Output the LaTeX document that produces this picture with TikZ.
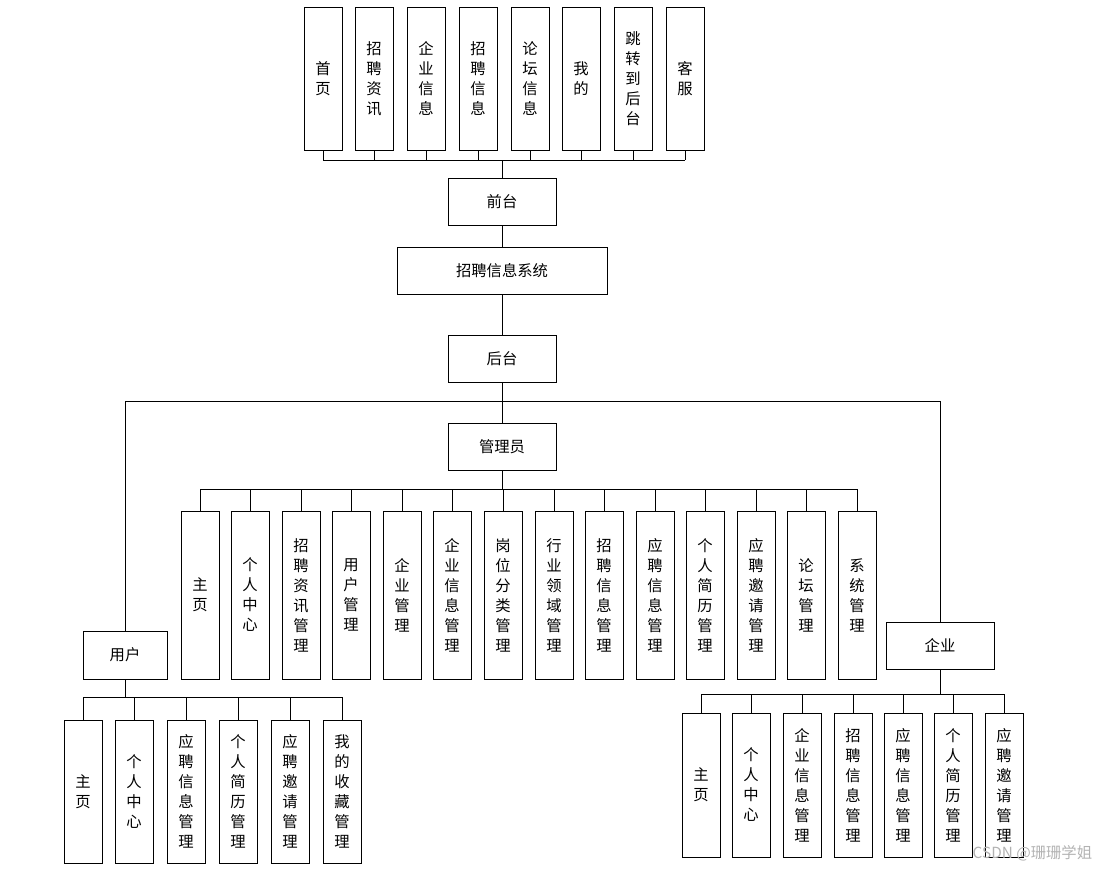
\documentclass[tikz,border=0pt]{standalone}
\usepackage{fontspec}
\setmainfont{Noto Sans CJK SC}
\begin{document}
\begin{tikzpicture}[x=0.75pt,y=-0.75pt,line width=0.6pt,
  every node/.style={font=\fontsize{11.5}{15}\selectfont},
  hb/.style={draw,minimum width=81pt,minimum height=35.25pt,inner sep=0pt},
  vb/.style={draw,minimum width=28.5pt,inner sep=0pt,align=center,text width=14pt}]
\useasboundingbox (0,0) rectangle (1111,872);
% top row
\foreach \i/\x/\t in {1/323/首\\页,2/374/招\\聘\\资\\讯,3/426/企\\业\\信\\息,4/478/招\\聘\\信\\息,5/530/论\\坛\\信\\息,6/581/我\\的,7/633/跳\\转\\到\\后\\台,8/685/客\\服}
  \node[vb,minimum height=107.25pt] (t\i) at (\x,78.5) {\t};
\coordinate (bt) at (0,160);
\node[hb] (qt) at (502,202) {前台};
\node[draw,minimum width=157.5pt,minimum height=35.25pt] (sys) at (502,270.5) {招聘信息系统};
\node[hb] (ht) at (502,358.5) {后台};
\node[hb] (gly) at (502,446.5) {管理员};
\node[draw,minimum width=63pt,minimum height=36pt] (yh) at (125,655) {用户};
\node[hb] (qy) at (940,645.5) {企业};
\coordinate (bh) at (0,401);
\coordinate (ba) at (0,489);
\coordinate (bu) at (0,697);
\coordinate (be) at (0,694);
% admin row
\foreach \i/\x/\t in {1/200/主\\页,2/250/个\\人\\中\\心,3/301/招\\聘\\资\\讯\\管\\理,4/351/用\\户\\管\\理,5/402/企\\业\\管\\理,6/452/企\\业\\信\\息\\管\\理,7/503/岗\\位\\分\\类\\管\\理,8/554/行\\业\\领\\域\\管\\理,9/604/招\\聘\\信\\息\\管\\理,10/655/应\\聘\\信\\息\\管\\理,11/705/个\\人\\简\\历\\管\\理,12/756/应\\聘\\邀\\请\\管\\理,13/806/论\\坛\\管\\理,14/857/系\\统\\管\\理}
  \node[vb,minimum height=126pt] (a\i) at (\x,595) {\t};
% user row
\foreach \i/\x/\t in {1/83/主\\页,2/134/个\\人\\中\\心,3/186/应\\聘\\信\\息\\管\\理,4/238/个\\人\\简\\历\\管\\理,5/290/应\\聘\\邀\\请\\管\\理,6/342/我\\的\\收\\藏\\管\\理}
  \node[vb,minimum height=107.25pt] (u\i) at (\x,791.5) {\t};
% enterprise row
\foreach \i/\x/\t in {1/701/主\\页,2/751/个\\人\\中\\心,3/802/企\\业\\信\\息\\管\\理,4/853/招\\聘\\信\\息\\管\\理,5/903/应\\聘\\信\\息\\管\\理,6/953/个\\人\\简\\历\\管\\理,7/1004/应\\聘\\邀\\请\\管\\理}
  \node[vb,minimum height=108pt] (e\i) at (\x,785) {\t};
% connectors top
\foreach \i in {1,...,8} \draw (t\i.south) -- (t\i.south |- bt);
\draw (t1.south |- bt) -- (t8.south |- bt);
\draw (qt.north) -- (qt.north |- bt);
\draw (qt.south) -- (sys.north);
\draw (sys.south) -- (ht.north);
\draw (ht.south) -- (ht.south |- bh);
\draw (yh.north |- bh) -- (qy.north |- bh);
\draw (yh.north) -- (yh.north |- bh);
\draw (qy.north) -- (qy.north |- bh);
\draw (gly.north) -- (gly.north |- bh);
% admin
\draw (gly.south) -- (gly.south |- ba);
\foreach \i in {1,...,14} \draw (a\i.north) -- (a\i.north |- ba);
\draw (a1.north |- ba) -- (a14.north |- ba);
% user
\draw (yh.south) -- (yh.south |- bu);
\foreach \i in {1,...,6} \draw (u\i.north) -- (u\i.north |- bu);
\draw (u1.north |- bu) -- (u6.north |- bu);
% enterprise
\draw (qy.south) -- (qy.south |- be);
\foreach \i in {1,...,7} \draw (e\i.north) -- (e\i.north |- be);
\draw (e1.north |- be) -- (e7.north |- be);
\node[text=gray!60,font=\fontsize{11.5}{13}\selectfont,anchor=east] (wm) at (1097,853) {CSDN @珊珊学姐};
\end{tikzpicture}
\end{document}
